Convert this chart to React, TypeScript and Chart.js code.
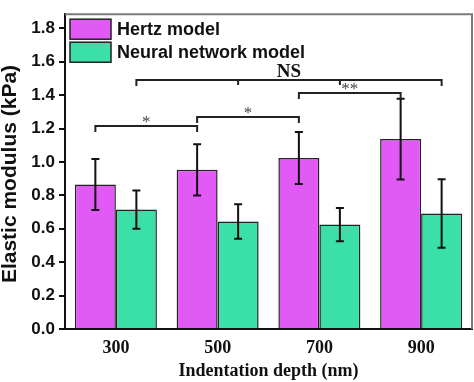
import React, { useEffect, useRef } from 'react';
import { Chart, registerables } from 'chart.js';

Chart.register(...registerables);

const categories = ['300', '500', '700', '900'];
const seriesLabels = ['Hertz model', 'Neural network model'];
const hertzValues = [0.865, 0.953, 1.024, 1.137];
const hertzErrors = [0.153, 0.153, 0.156, 0.242];
const neuralValues = [0.715, 0.644, 0.625, 0.692];
const neuralErrors = [0.114, 0.103, 0.099, 0.205];
const yMin = 0;
const yMax = 1.885;
const yStep = 0.2;
const yTitle = 'Elastic modulus (kPa)';
const xTitle = 'Indentation depth (nm)';

// significance brackets: [categoryIndex, datasetIndex]
const bracketStart = [[0, 0], [1, 0], [2, 0], [0, 1]];
const bracketEnd = [[1, 0], [2, 0], [3, 0], [3, 1]];
const bracketMid = [[], [], [], [[1, 1], [2, 1]]];
const bracketLevel = [1.217, 1.268, 1.416, 1.491];
const bracketText = ['*', '*', '**', 'NS'];

const colors = ['#E25AF6', '#3BE0A9'];
const errorsBySeries = [hertzErrors, neuralErrors];

const overlayPlugin = {
  id: 'overlay',
  afterDatasetsDraw(chart: any) {
    const ctx = chart.ctx;
    const y = chart.scales.y;
    const area = chart.chartArea;
    ctx.save();
    // error bars
    ctx.strokeStyle = '#111';
    ctx.lineWidth = 2;
    [0, 1].forEach((ds) => {
      const meta = chart.getDatasetMeta(ds);
      const vals = chart.data.datasets[ds].data;
      meta.data.forEach((bar: any, i: number) => {
        const e = errorsBySeries[ds][i];
        const yt = y.getPixelForValue(vals[i] + e);
        const yb = y.getPixelForValue(vals[i] - e);
        ctx.beginPath();
        ctx.moveTo(bar.x, yt);
        ctx.lineTo(bar.x, yb);
        ctx.moveTo(bar.x - 4, yt);
        ctx.lineTo(bar.x + 4, yt);
        ctx.moveTo(bar.x - 4, yb);
        ctx.lineTo(bar.x + 4, yb);
        ctx.stroke();
      });
    });
    // brackets
    ctx.strokeStyle = '#222';
    bracketLevel.forEach((lvl, k) => {
      const py = Math.round(y.getPixelForValue(lvl));
      const xs = chart.getDatasetMeta(bracketStart[k][1]).data[bracketStart[k][0]].x;
      const xe = chart.getDatasetMeta(bracketEnd[k][1]).data[bracketEnd[k][0]].x;
      ctx.beginPath();
      ctx.moveTo(xs, py + 6);
      ctx.lineTo(xs, py);
      ctx.lineTo(xe, py);
      ctx.lineTo(xe, py + 6);
      (bracketMid[k] as number[][]).forEach((m) => {
        const xm = chart.getDatasetMeta(m[1]).data[m[0]].x;
        ctx.moveTo(xm, py);
        ctx.lineTo(xm, py + 5);
      });
      ctx.stroke();
      const t = bracketText[k];
      ctx.textAlign = 'center';
      ctx.textBaseline = 'alphabetic';
      if (t === 'NS') {
        ctx.fillStyle = '#111';
        ctx.font = 'bold 19px "Liberation Serif"';
        ctx.fillText(t, (xs + xe) / 2, py - 3);
      } else {
        ctx.fillStyle = '#444';
        ctx.font = '17px "Liberation Serif"';
        ctx.fillText(t, (xs + xe) / 2, py + 1);
      }
    });
    // legend
    ctx.font = 'bold 18px "Liberation Sans"';
    ctx.textAlign = 'left';
    ctx.textBaseline = 'middle';
    seriesLabels.forEach((lab, i) => {
      const bx = area.left + 5;
      const by = area.top + 5 + i * 23;
      ctx.fillStyle = colors[i];
      ctx.fillRect(bx, by, 41, 20);
      ctx.strokeStyle = '#222';
      ctx.lineWidth = 1.5;
      ctx.strokeRect(bx, by, 41, 20);
      ctx.fillStyle = '#111';
      ctx.fillText(lab, bx + 47, by + 11);
    });
    // top & right frame
    ctx.strokeStyle = '#7a7a7a';
    ctx.lineWidth = 2;
    ctx.beginPath();
    ctx.moveTo(area.left, area.top);
    ctx.lineTo(area.right, area.top);
    ctx.lineTo(area.right, area.bottom);
    ctx.stroke();
    // y title
    ctx.save();
    ctx.translate(10, 174);
    ctx.rotate(-Math.PI / 2);
    ctx.font = 'bold 21px "Liberation Sans"';
    ctx.textAlign = 'center';
    ctx.textBaseline = 'middle';
    ctx.fillStyle = '#111';
    ctx.fillText(yTitle, 0, 0);
    ctx.restore();
    ctx.restore();
  },
};

export default function App() {
  const ref = useRef<HTMLCanvasElement>(null);
  useEffect(() => {
    document.body.style.margin = '0';
    const chart = new Chart(ref.current as HTMLCanvasElement, {
      type: 'bar',
      data: {
        labels: categories,
        datasets: [
          {
            label: seriesLabels[0],
            data: hertzValues,
            backgroundColor: colors[0],
            borderColor: '#222',
            borderWidth: 1.5,
          },
          {
            label: seriesLabels[1],
            data: neuralValues,
            backgroundColor: colors[1],
            borderColor: '#222',
            borderWidth: 1.5,
          },
        ],
      },
      options: {
        animation: false,
        responsive: false,
        devicePixelRatio: 1,
        layout: { padding: { top: 1, right: 2, left: 0, bottom: 0 } },
        datasets: { bar: { categoryPercentage: 0.806, barPercentage: 1 } },
        plugins: { legend: { display: false }, tooltip: { enabled: false } },
        scales: {
          x: {
            afterFit: (s: any) => { s.height = 53; },
            grid: { display: true, drawOnChartArea: false, drawTicks: false },
            border: { display: true, color: '#111', width: 2 },
            ticks: {
              color: '#111',
              padding: 9,
              font: { family: '"Liberation Serif"', size: 18, weight: 'bold' },
            },
            title: {
              display: true,
              text: xTitle,
              color: '#111',
              font: { family: '"Liberation Serif"', size: 18, weight: 'bold', lineHeight: 1 },
              padding: { top: 0, bottom: 2 },
            },
          },
          y: {
            min: yMin,
            max: yMax,
            afterFit: (s: any) => { s.width = 65; },
            grid: { display: true, drawOnChartArea: false, drawTicks: true, tickLength: 6, color: '#111', lineWidth: 2 },
            border: { display: true, color: '#111', width: 2 },
            ticks: {
              stepSize: yStep,
              includeBounds: false,
              color: '#111',
              padding: 4,
              font: { family: '"Liberation Sans"', size: 17, weight: 'bold' },
              callback: (v: any) => Number(v).toFixed(1),
            },
            title: { display: false },
          },
        },
      },
      plugins: [overlayPlugin],
    } as any);
    return () => chart.destroy();
  }, []);
  return (
    <div style={{ width: 474, height: 382 }}>
      <canvas ref={ref} width={474} height={382} style={{ display: 'block' }} />
    </div>
  );
}
